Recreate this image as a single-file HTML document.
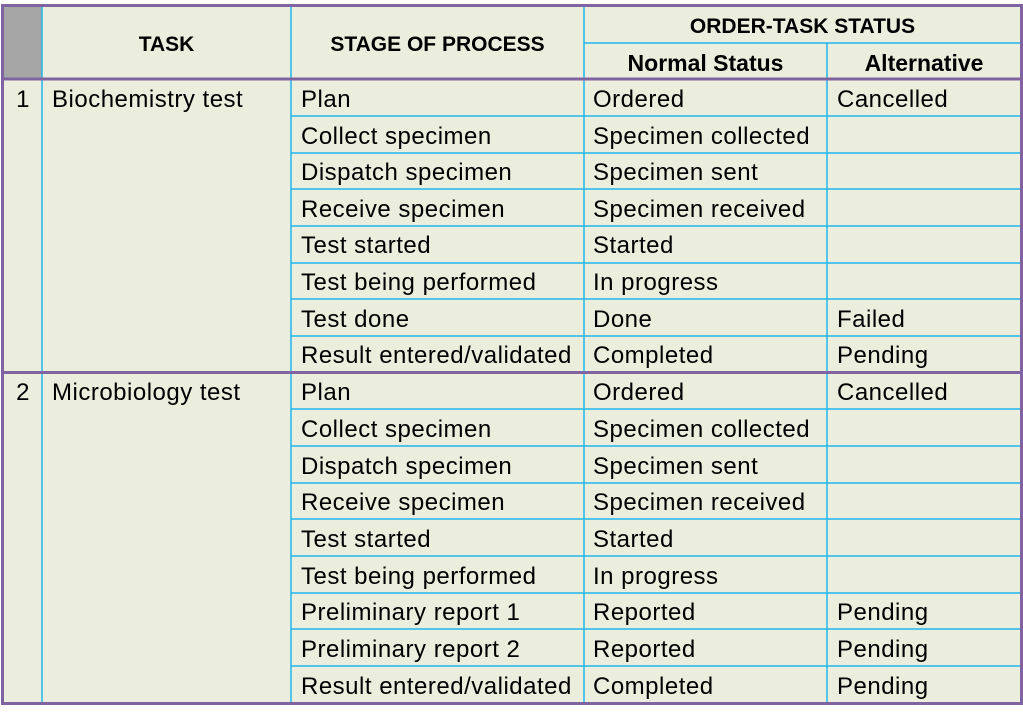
<!DOCTYPE html>
<html><head><meta charset="utf-8"><style>
body{margin:0;width:1023px;height:718px;background:#fff;position:relative;overflow:hidden;font-family:"Liberation Sans",sans-serif;}
.t{position:absolute;font-size:24px;letter-spacing:0.5px;color:#000;white-space:nowrap;line-height:36px;height:36px;margin-top:2px;}
.h{font-weight:bold;text-align:center;font-size:21px;letter-spacing:0;}
.s{font-size:23px;}
</style></head><body>
<svg width="1023" height="718" style="position:absolute;left:0;top:0">
<rect x="3" y="6" width="1018" height="697" fill="#ebeedd"/>
<rect x="4" y="7" width="38" height="72" fill="#a6a6a6"/>
<g stroke="#1fb6ee" stroke-width="1.5">
<line x1="42" y1="6" x2="42" y2="703"/>
<line x1="291" y1="6" x2="291" y2="703"/>
<line x1="584" y1="6" x2="584" y2="703"/>
<line x1="827" y1="43" x2="827" y2="703"/>
<line x1="584" y1="43" x2="1021" y2="43"/>
<line x1="291" y1="116" x2="1021" y2="116"/>
<line x1="291" y1="153" x2="1021" y2="153"/>
<line x1="291" y1="189" x2="1021" y2="189"/>
<line x1="291" y1="226" x2="1021" y2="226"/>
<line x1="291" y1="263" x2="1021" y2="263"/>
<line x1="291" y1="299" x2="1021" y2="299"/>
<line x1="291" y1="336" x2="1021" y2="336"/>
<line x1="291" y1="409" x2="1021" y2="409"/>
<line x1="291" y1="446" x2="1021" y2="446"/>
<line x1="291" y1="483" x2="1021" y2="483"/>
<line x1="291" y1="519" x2="1021" y2="519"/>
<line x1="291" y1="556" x2="1021" y2="556"/>
<line x1="291" y1="593" x2="1021" y2="593"/>
<line x1="291" y1="629" x2="1021" y2="629"/>
<line x1="291" y1="666" x2="1021" y2="666"/>
</g>
<g stroke="#8064a2" stroke-width="3" fill="none">
<rect x="2.5" y="5.5" width="1019" height="698"/>
<line x1="2" y1="79" x2="1022" y2="79"/>
<line x1="2" y1="372.5" x2="1022" y2="372.5"/>
</g>
</svg>
<div class="t h" style="left:42px;width:249px;top:25px">TASK</div>
<div class="t h" style="left:291px;width:293px;top:25px">STAGE OF PROCESS</div>
<div class="t h" style="left:584px;width:437px;top:7px">ORDER-TASK STATUS</div>
<div class="t h s" style="left:584px;width:243px;top:43px">Normal Status</div>
<div class="t h s" style="left:827px;width:194px;top:43px">Alternative</div>

<div class="t" style="left:4px;width:38px;text-align:center;top:80px">1</div>
<div class="t" style="left:52px;top:80px">Biochemistry test</div>
<div class="t" style="left:4px;width:38px;text-align:center;top:373px">2</div>
<div class="t" style="left:52px;top:373px">Microbiology test</div>

<div class="t" style="left:301px;top:80px">Plan</div><div class="t" style="left:593px;top:80px">Ordered</div><div class="t" style="left:837px;top:80px">Cancelled</div>
<div class="t" style="left:301px;top:117px">Collect specimen</div><div class="t" style="left:593px;top:117px">Specimen collected</div>
<div class="t" style="left:301px;top:153px">Dispatch specimen</div><div class="t" style="left:593px;top:153px">Specimen sent</div>
<div class="t" style="left:301px;top:190px">Receive specimen</div><div class="t" style="left:593px;top:190px">Specimen received</div>
<div class="t" style="left:301px;top:226px">Test started</div><div class="t" style="left:593px;top:226px">Started</div>
<div class="t" style="left:301px;top:263px">Test being performed</div><div class="t" style="left:593px;top:263px">In progress</div>
<div class="t" style="left:301px;top:300px">Test done</div><div class="t" style="left:593px;top:300px">Done</div><div class="t" style="left:837px;top:300px">Failed</div>
<div class="t" style="left:301px;top:336px">Result entered/validated</div><div class="t" style="left:593px;top:336px">Completed</div><div class="t" style="left:837px;top:336px">Pending</div>

<div class="t" style="left:301px;top:373px">Plan</div><div class="t" style="left:593px;top:373px">Ordered</div><div class="t" style="left:837px;top:373px">Cancelled</div>
<div class="t" style="left:301px;top:410px">Collect specimen</div><div class="t" style="left:593px;top:410px">Specimen collected</div>
<div class="t" style="left:301px;top:447px">Dispatch specimen</div><div class="t" style="left:593px;top:447px">Specimen sent</div>
<div class="t" style="left:301px;top:483px">Receive specimen</div><div class="t" style="left:593px;top:483px">Specimen received</div>
<div class="t" style="left:301px;top:520px">Test started</div><div class="t" style="left:593px;top:520px">Started</div>
<div class="t" style="left:301px;top:557px">Test being performed</div><div class="t" style="left:593px;top:557px">In progress</div>
<div class="t" style="left:301px;top:593px">Preliminary report 1</div><div class="t" style="left:593px;top:593px">Reported</div><div class="t" style="left:837px;top:593px">Pending</div>
<div class="t" style="left:301px;top:630px">Preliminary report 2</div><div class="t" style="left:593px;top:630px">Reported</div><div class="t" style="left:837px;top:630px">Pending</div>
<div class="t" style="left:301px;top:667px">Result entered/validated</div><div class="t" style="left:593px;top:667px">Completed</div><div class="t" style="left:837px;top:667px">Pending</div>
</body></html>
